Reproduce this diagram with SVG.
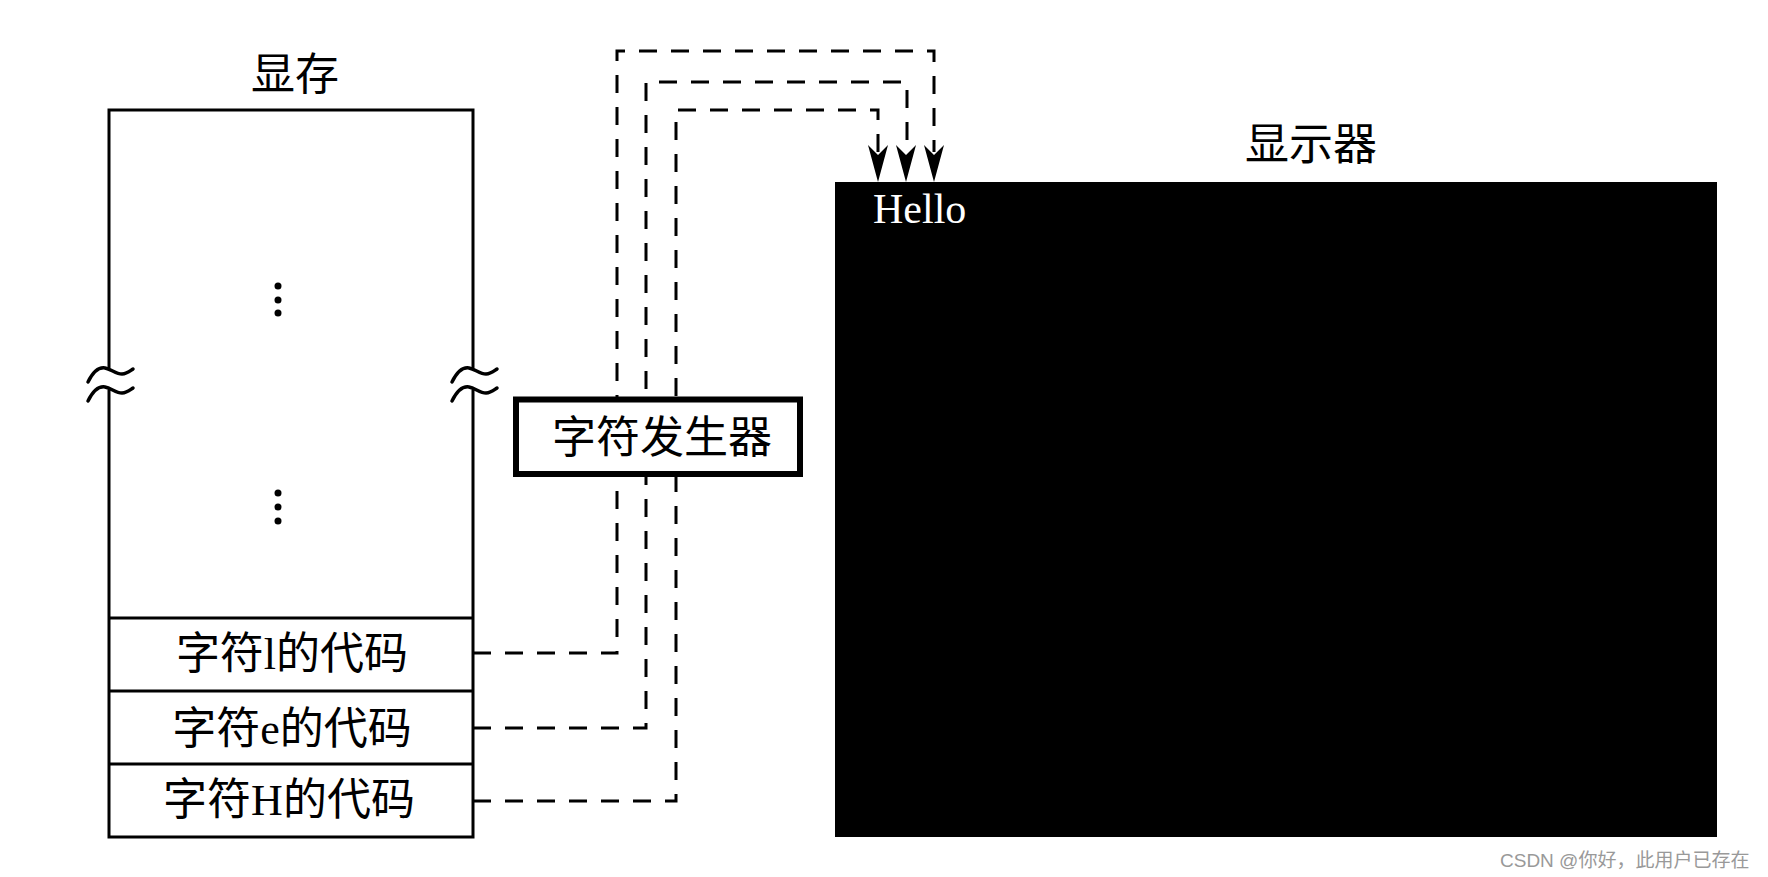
<svg xmlns="http://www.w3.org/2000/svg" width="1768" height="877" viewBox="0 0 1768 877">
<style>
.cjk{font-family:"Liberation Serif","Noto Sans CJK SC",serif;font-size:44px;fill:#000}
.ln{fill:none;stroke:#000;stroke-width:3}
.dash{fill:none;stroke:#000;stroke-width:3;stroke-dasharray:18 14}
</style>
<defs>
<path id="ah" d="M0,0 L-10,-37 L0,-27 L10,-37 Z" fill="#000"/>
<path id="brk" d="M-20,14 C-15,4 -9,-1 -3,0 C3,1 8,6 14,6 C19,6 22,3 25,1" fill="none" stroke="#000" stroke-width="3.5" stroke-linecap="round"/>
</defs>
<rect width="1768" height="877" fill="#fff"/>

<g id="connectors">
<path class="dash" d="M473,653 H617 V51 H934 V152"/>
<path class="dash" d="M473,728 H646 V82 H907 V152"/>
<path class="dash" d="M473,801 H676 V110 H878 V152"/>
<use href="#ah" x="934" y="182"/>
<use href="#ah" x="906" y="182"/>
<use href="#ah" x="878" y="182"/>
</g>

<g id="vram">
<text class="cjk" x="295" y="90" text-anchor="middle">显存</text>
<path class="ln" d="M109,368 V110 H473 V368"/>
<path class="ln" d="M109,390 V837 H473 V390"/>
<use href="#brk" x="108" y="368"/>
<use href="#brk" x="108" y="387"/>
<use href="#brk" x="472" y="368"/>
<use href="#brk" x="472" y="387"/>
<circle cx="278" cy="286" r="3.5"/>
<circle cx="278" cy="300" r="3.5"/>
<circle cx="278" cy="313" r="3.5"/>
<circle cx="278" cy="493" r="3.5"/>
<circle cx="278" cy="507" r="3.5"/>
<circle cx="278" cy="521" r="3.5"/>
</g>

<g id="row-l">
<line class="ln" x1="109" y1="618" x2="473" y2="618"/>
<text class="cjk" x="292" y="669" text-anchor="middle">字符l的代码</text>
</g>
<g id="row-e">
<line class="ln" x1="109" y1="691" x2="473" y2="691"/>
<text class="cjk" x="292" y="744" text-anchor="middle">字符e的代码</text>
</g>
<g id="row-H">
<line class="ln" x1="109" y1="764" x2="473" y2="764"/>
<text class="cjk" x="289" y="815" text-anchor="middle">字符H的代码</text>
</g>

<g id="generator">
<rect x="516" y="399.5" width="284" height="74.5" fill="#fff" stroke="#000" stroke-width="6"/>
<text class="cjk" x="662" y="453" text-anchor="middle">字符发生器</text>
</g>

<g id="display">
<text class="cjk" x="1311" y="160" text-anchor="middle">显示器</text>
<rect x="835" y="182" width="882" height="655" fill="#000"/>
<text x="873" y="223" font-family="Liberation Serif, serif" font-size="42" fill="#fff">Hello</text>
</g>

<text x="1500" y="867" font-family="Liberation Sans, Noto Sans CJK SC, sans-serif" font-size="19" fill="#999">CSDN @你好，此用户已存在</text>
</svg>
